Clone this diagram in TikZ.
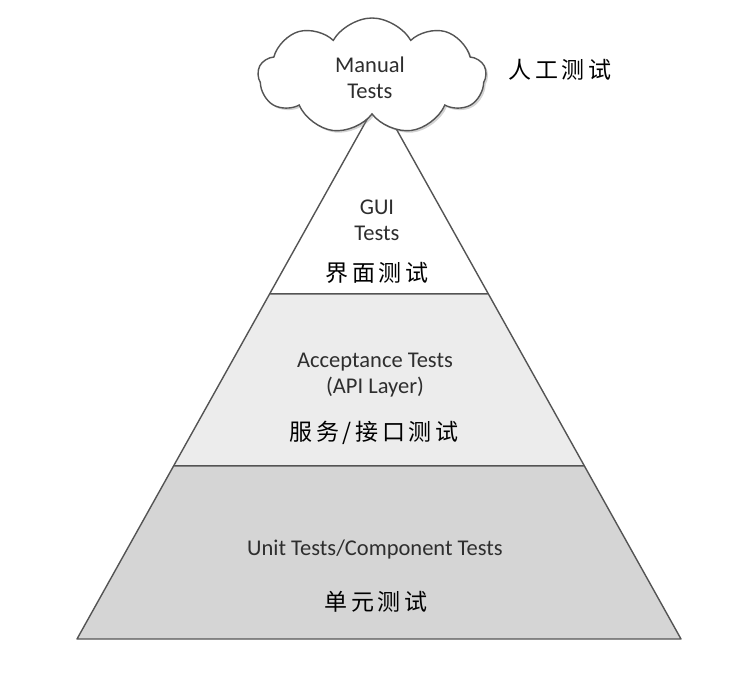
\documentclass[tikz,border=0pt]{standalone}
\usepackage{fontspec}
\setmainfont{Carlito}
\newfontfamily\cjk[LetterSpace=16]{Noto Sans CJK SC}
\usetikzlibrary{calc,shapes.symbols,shadows}

\begin{document}
\begin{tikzpicture}[x=1pt,y=-1pt,
	en/.style={text=color4, font=\fontsize{22.5}{26}\selectfont, align=center},
	zh/.style={text=black, font=\cjk\fontsize{23}{28}\selectfont},
	band/.style={draw=color1, line width=1.4pt, line join=round}]
	\definecolor{color1}{gray}{0.33}
	\definecolor{color2}{gray}{0.925}
	\definecolor{color3}{gray}{0.835}
	\definecolor{color4}{gray}{0.18}
	\useasboundingbox (0,0) rectangle (753,674);
	%% Corners ------
	\coordinate (apex) at (379,98);
	\coordinate (bl) at (77,639);
	\coordinate (br) at (681,639);
	\coordinate (gl) at ($(apex)!0.362!(bl)$);
	\coordinate (gr) at ($(apex)!0.362!(br)$);
	\coordinate (al) at ($(apex)!0.680!(bl)$);
	\coordinate (ar) at ($(apex)!0.680!(br)$);
	%% Bands ---------
	\draw[band, fill=white] (apex) -- (gl) -- (gr) -- cycle;
	\draw[band, fill=color2] (gl) -- (al) -- (ar) -- (gr) -- cycle;
	\draw[band, fill=color3] (al) -- (bl) -- (br) -- (ar) -- cycle;
	%% Cloud ---------
	\node[cloud, cloud puffs=9, cloud puff arc=120, aspect=1.95, draw=color1, line width=1.4pt,
		fill=white, minimum width=228pt, minimum height=116pt,
		drop shadow={shadow xshift=2pt, shadow yshift=-2pt, opacity=0.35}] (manual) at (372,76) {};
	%% Labels --------
	\node[en] (manualtxt) at (370,78) {Manual\\Tests};
	\node[zh] (manualzh) at (560,70) {人工测试};
	\node[en] (guitxt) at (377,220) {GUI\\Tests};
	\node[zh] (guizh) at (377,273) {界面测试};
	\node[en] (acctxt) at (375,375) {Acceptance Tests\\(API Layer)};
	\node[zh] (acczh) at (374,433) {服务/接口测试};
	\node[en] (unittxt) at (375,549) {Unit Tests/Component Tests};
	\node[zh] (unitzh) at (376,602) {单元测试};
\end{tikzpicture}
\end{document}
